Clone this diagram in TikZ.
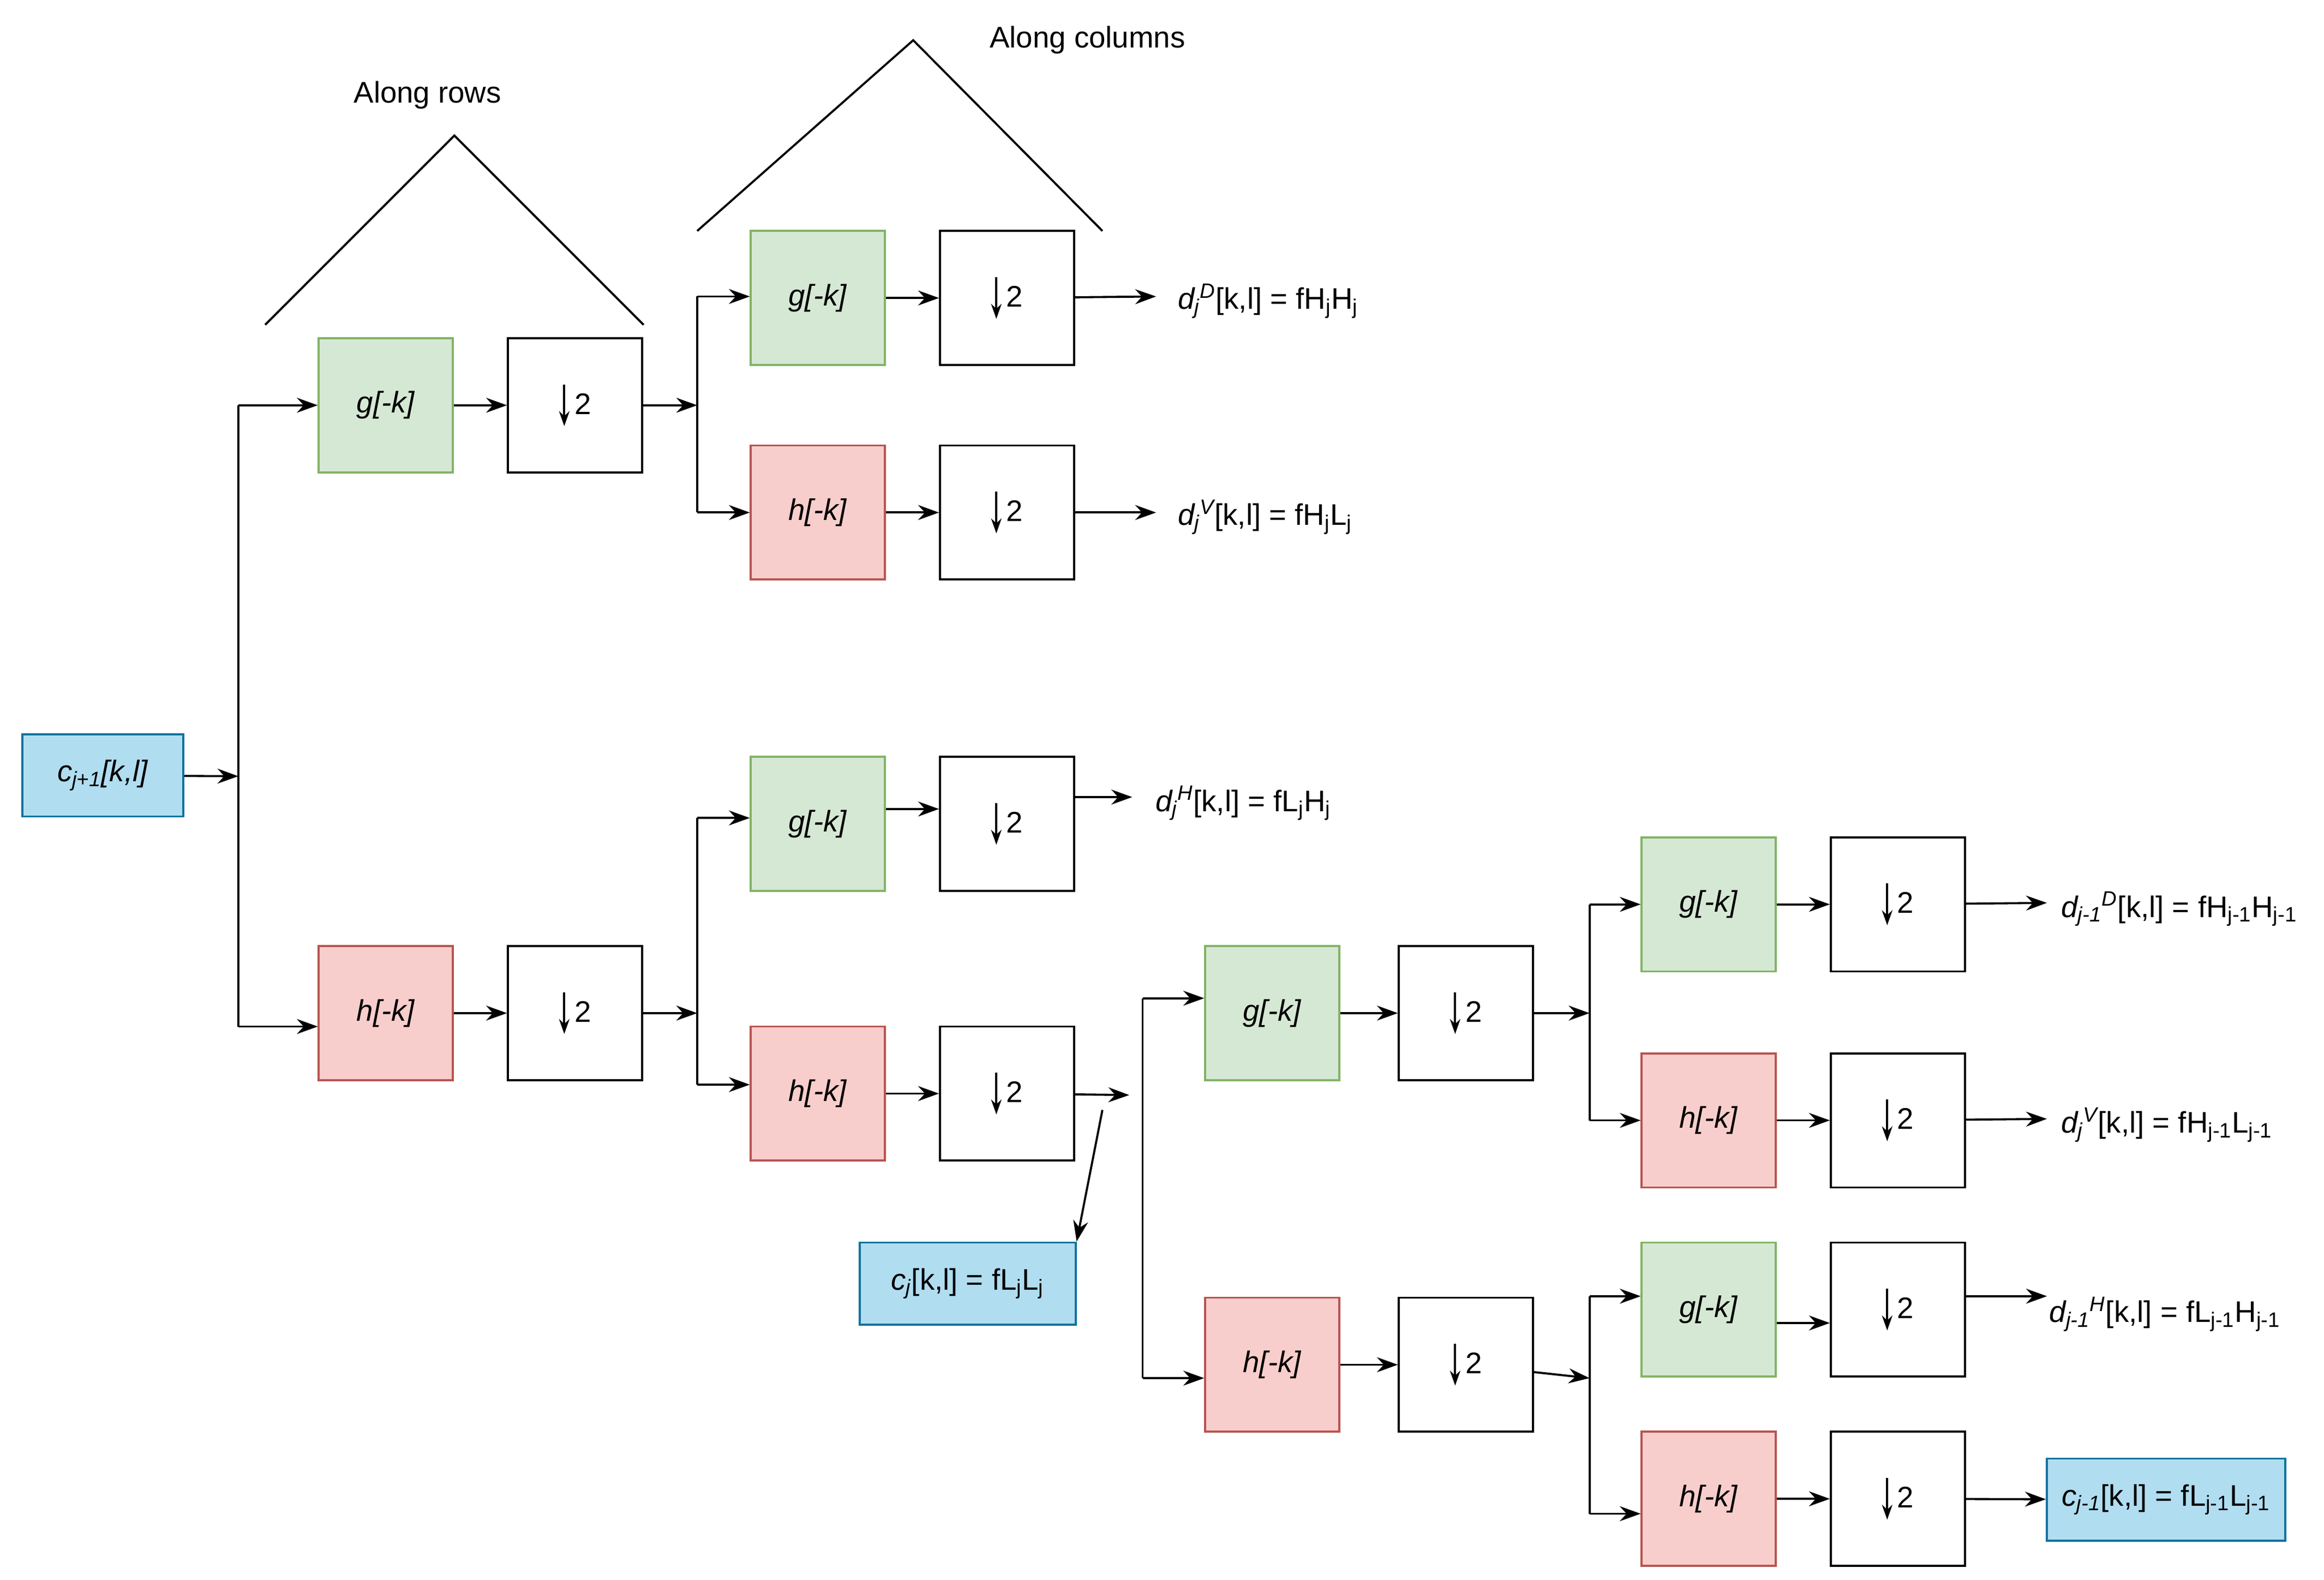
\documentclass[tikz,border=0pt]{standalone}
\usepackage{fontspec}
\setmainfont{Liberation Sans}
\usetikzlibrary{arrows.meta}
\begin{document}
\begin{tikzpicture}[x=1pt,y=-1pt,line width=1.4pt,
  every node/.style={font=\fontsize{20}{24}\selectfont},
  bx/.style={draw,minimum width=90pt,minimum height=90pt,inner sep=0pt,line width=1.4pt},
  gb/.style={bx,fill=gfill,draw=gdraw},
  hb/.style={bx,fill=rfill,draw=rdraw},
  db/.style={bx,draw=black},
  cb/.style={draw=bdraw,fill=bfill,line width=1.4pt,inner sep=3pt},
  lab/.style={anchor=west,inner sep=0pt},
  ar/.style={-{Stealth[length=14pt,width=10pt]}},
  ln/.style={line width=1.4pt}]
\definecolor{gfill}{HTML}{D5E8D4}\definecolor{gdraw}{HTML}{82B366}
\definecolor{rfill}{HTML}{F8CECC}\definecolor{rdraw}{HTML}{B85450}
\definecolor{bfill}{HTML}{B1DDF0}\definecolor{bdraw}{HTML}{10739E}
\useasboundingbox (0,0) rectangle (1560,1060.5);
\newcommand{\dn}{\tikz[baseline=-6pt,x=1pt,y=1pt]{\draw[line width=1.4pt,-{Stealth[length=10pt,width=7pt]}] (0,14) -- (0,-14);}\,2}
\newcommand{\mysub}[1]{\textsubscript{#1}}
\newcommand{\mysup}[1]{\textsuperscript{#1}}
% input
\node[cb,minimum width=108pt,minimum height=55pt] (in) at (69,520.5) {\textit{c\mysub{j+1}[k,l]}};
\coordinate (s0) at (160,521);
\coordinate (s0t) at (160,272); \coordinate (s0b) at (160,689);
\draw[ar] (in) -- (s0);
\draw[ln] (s0t) -- (s0b);
% level 1
\node[gb] (g1) at (259,272) {\textit{g[-k]}};
\node[db] (d1) at (386,272) {\dn};
\node[hb] (h1) at (259,680) {\textit{h[-k]}};
\node[db] (d2) at (386,680) {\dn};
\draw[ar] (s0t) -- (s0t-|g1.west);
\draw[ar] (s0b) -- (s0b-|h1.west);
\draw[ar] (g1) -- (d1);
\draw[ar] (h1) -- (d2);
% top branch
\coordinate (j1) at (468,272); \coordinate (j1t) at (468,199); \coordinate (j1b) at (468,344);
\draw[ar] (d1) -- (j1);
\draw[ln] (j1t) -- (j1b);
\node[gb] (g2) at (549,200) {\textit{g[-k]}};
\node[db] (d3) at (676,200) {\dn};
\node[hb] (h2) at (549,344) {\textit{h[-k]}};
\node[db] (d4) at (676,344) {\dn};
\draw[ar] (j1t) -- (j1t-|g2.west); \draw[ar] (j1b) -- (j1b-|h2.west);
\draw[ar] (g2) -- (d3); \draw[ar] (h2) -- (d4);
\coordinate (o1) at (776,199); \coordinate (o2) at (776,344);
\draw[ar] (d3) -- (o1); \draw[ar] (d4) -- (o2);
\node[lab] (l1) at (790,202) {\textit{d\mysub{j}\mysup{D}}[k,l] = fH\mysub{j}H\mysub{j}};
\node[lab] (l2) at (790,347) {\textit{d\mysub{j}\mysup{V}}[k,l] = fH\mysub{j}L\mysub{j}};
% bottom branch
\coordinate (j2) at (468,680); \coordinate (j2t) at (468,549); \coordinate (j2b) at (468,728);
\draw[ar] (d2) -- (j2);
\draw[ln] (j2t) -- (j2b);
\node[gb] (g3) at (549,553) {\textit{g[-k]}};
\node[db] (d5) at (676,553) {\dn};
\node[hb] (h3) at (549,734) {\textit{h[-k]}};
\node[db] (d6) at (676,734) {\dn};
\draw[ar] (j2t) -- (j2t-|g3.west); \draw[ar] (j2b) -- (j2b-|h3.west);
\draw[ar] ([yshift=10pt]g3.east) -- ([yshift=10pt]d5.west); \draw[ar] (h3) -- (d6);
\coordinate (o3) at (760,535);
\draw[ar] (d5.east|-o3) -- (o3);
\node[lab] (l3) at (775,539) {\textit{d\mysub{j}\mysup{H}}[k,l] = fL\mysub{j}H\mysub{j}};
\coordinate (o4) at (758,735);
\draw[ar] (d6) -- (o4);
\node[cb,minimum width=145pt,minimum height=55pt,inner sep=0pt] (cj) at (649.5,861.5) {\textit{c\mysub{j}}[k,l] = fL\mysub{j}L\mysub{j}};
\coordinate (cs) at (740,745);
\draw[ar] (cs) -- (cj.north east);
% level 3
\coordinate (j3t) at (767,670); \coordinate (j3b) at (767,925);
\draw[ln] (j3t) -- (j3b);
\node[gb] (g4) at (854,680) {\textit{g[-k]}};
\node[db] (d7) at (984,680) {\dn};
\node[hb] (h4) at (854,916) {\textit{h[-k]}};
\node[db] (d8) at (984,916) {\dn};
\draw[ar] (j3t) -- (j3t-|g4.west); \draw[ar] (j3b) -- (j3b-|h4.west);
\draw[ar] (g4) -- (d7); \draw[ar] (h4) -- (d8);
% level 4 upper
\coordinate (j4) at (1067,680); \coordinate (j4t) at (1067,607); \coordinate (j4b) at (1067,752);
\draw[ar] (d7) -- (j4); \draw[ln] (j4t) -- (j4b);
\node[gb] (g5) at (1147,607) {\textit{g[-k]}};
\node[db] (d9) at (1274,607) {\dn};
\node[hb] (h5) at (1147,752) {\textit{h[-k]}};
\node[db] (d10) at (1274,752) {\dn};
\draw[ar] (j4t) -- (j4t-|g5.west); \draw[ar] (j4b) -- (j4b-|h5.west);
\draw[ar] (g5) -- (d9); \draw[ar] (h5) -- (d10);
\coordinate (o5) at (1374,606); \coordinate (o6) at (1374,751);
\draw[ar] (d9) -- (o5); \draw[ar] (d10) -- (o6);
\node[lab] (l5) at (1383,610) {\textit{d\mysub{j-1}\mysup{D}}[k,l] = fH\mysub{j-1}H\mysub{j-1}};
\node[lab] (l6) at (1383,755) {\textit{d\mysub{j}\mysup{V}}[k,l] = fH\mysub{j-1}L\mysub{j-1}};
% level 4 lower
\coordinate (j5) at (1067,925); \coordinate (j5t) at (1067,870); \coordinate (j5b) at (1067,1016);
\draw[ar] (d8) -- (j5); \draw[ln] (j5t) -- (j5b);
\node[gb] (g6) at (1147,879) {\textit{g[-k]}};
\node[db] (d11) at (1274,879) {\dn};
\node[hb] (h6) at (1147,1006) {\textit{h[-k]}};
\node[db] (d12) at (1274,1006) {\dn};
\draw[ar] (j5t) -- (j5t-|g6.west); \draw[ar] (j5b) -- (j5b-|h6.west);
\draw[ar] ([yshift=-9pt]g6.east) -- ([yshift=-9pt]d11.west); \draw[ar] (h6) -- (d12);
\coordinate (o7) at (1374,870);
\draw[ar] (d11.east|-o7) -- (o7);
\node[lab] (l7) at (1375,882) {\textit{d\mysub{j-1}\mysup{H}}[k,l] = fL\mysub{j-1}H\mysub{j-1}};
\node[cb,minimum width=160pt,minimum height=55pt,inner sep=0pt] (cj1) at (1454,1006.5) {\textit{c\mysub{j-1}}[k,l] = fL\mysub{j-1}L\mysub{j-1}};
\draw[ar] (d12) -- (cj1);
% roofs
\coordinate (r1a) at (178,218); \coordinate (r1b) at (305,91); \coordinate (r1c) at (432,218);
\draw[ln] (r1a) -- (r1b) -- (r1c);
\node (t1) at (287,64) {Along rows};
\coordinate (r2a) at (468,155); \coordinate (r2b) at (613,27); \coordinate (r2c) at (740,155);
\draw[ln] (r2a) -- (r2b) -- (r2c);
\node (t2) at (730,27) {Along columns};
\end{tikzpicture}
\end{document}
